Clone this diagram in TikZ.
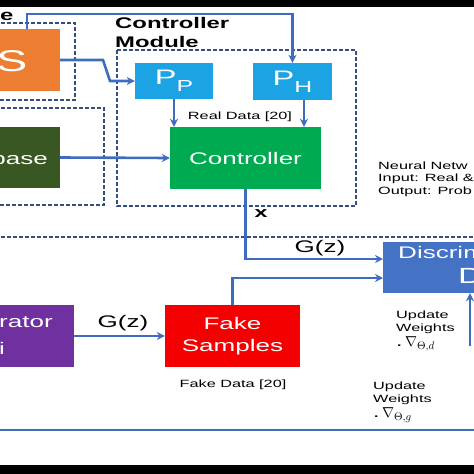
\documentclass[tikz,border=0pt]{standalone}
\usepackage{fontspec}
\setmainfont{Liberation Sans}[FakeStretch=1.55]
\usetikzlibrary{arrows.meta}
\tikzset {>={Stealth[length=8pt,width=8pt]}}

\definecolor{srcorange}{RGB}{237,125,49}
\definecolor{pcyan}{RGB}{28,163,227}
\definecolor{ctrlgreen}{RGB}{0,170,80}
\definecolor{dbgreen}{RGB}{56,87,35}
\definecolor{genpurple}{RGB}{112,48,160}
\definecolor{fakered}{RGB}{245,0,0}
\definecolor{discblue}{RGB}{68,114,196}
\definecolor{lnblue}{RGB}{62,108,192}
\definecolor{dashcol}{RGB}{52,78,128}

\tikzset{
  blk/.style={rectangle, inner sep=0pt, text=white},
  link/.style={draw=lnblue, line width=2.6pt, ->},
  dbox/.style={draw=dashcol, line width=1.6pt, dash pattern=on 4pt off 2pt},
  lbl/.style={inner sep=0pt, font=\fontsize{10.5}{12.5}\selectfont},
  big/.style={inner sep=0pt, text=white, font=\fontsize{16.8}{22}\selectfont}
}

\begin{document}
\begin{tikzpicture}[x=1pt,y=-1pt]
\useasboundingbox (0,0) rectangle (474,474);
\clip (0,0) rectangle (474,474);

% frame bands
\fill[black] (0,0) rectangle (474,7);
\fill[black] (0,465) rectangle (474,474);
\draw[lnblue, line width=1.8pt] (0,430) -- (474,430);

% dashed groups
\draw[dbox] (-5,23) -- (75,23) -- (75,100) -- (-5,100);
\draw[dbox] (-5,108) -- (104,108) -- (104,205) -- (-5,205);
\draw[dbox] (117,50) rectangle (356,206);
\draw[dbox] (-5,237) -- (480,237);

% boxes
\node[blk, fill=srcorange, minimum width=90, minimum height=62] (src) at (15,60) {};
\node[blk, fill=dbgreen, minimum width=90, minimum height=61] (db) at (15,157.5) {};
\node[blk, fill=pcyan, minimum width=78, minimum height=36] (pp) at (174,81)
  {\fontsize{21}{21}\selectfont P\raisebox{-7pt}{\fontsize{16}{16}\selectfont P}};
\node[blk, fill=pcyan, minimum width=79, minimum height=37] (ph) at (292.5,81.5)
  {\fontsize{21}{21}\selectfont P\raisebox{-7pt}{\fontsize{16}{16}\selectfont H}};
\node[blk, fill=ctrlgreen, minimum width=151, minimum height=62, font=\fontsize{16.8}{20}\selectfont] (ctrl) at (245.5,158) {Controller};
\node[blk, fill=genpurple, minimum width=104, minimum height=62] (gen) at (22,336) {};
\node[blk, fill=fakered, minimum width=135, minimum height=62, align=center, font=\fontsize{16.8}{22}\selectfont] (fake) at (232.5,336) {Fake\\Samples};
\node[blk, fill=discblue, minimum width=137, minimum height=51] (disc) at (451.5,267.5) {};

% texts of the cut boxes
\node[big, font=\fontsize{30}{30}\selectfont] (srcS) at (12,61) {S};
\node[big, anchor=east] (dbtxt) at (48,158) {base};
\node[big, anchor=west] (gentxt) at (-1,322) {rator};
\node[big, anchor=east] (gentxt2) at (5,348) {i};
\node[big, anchor=west] (disctxt) at (398,252) {Discrim};
\node[big, anchor=west, font=\fontsize{22}{22}\selectfont] (discD) at (458,276) {D};

% titles and labels
\node[inner sep=0pt, anchor=base west, font=\bfseries\fontsize{15.4}{18}\selectfont] (srctitle) at (0,20) {e};
\node[inner sep=0pt, anchor=base west, font=\bfseries\fontsize{15.4}{18}\selectfont] (cmtitle) at (115,28) {Controller};
\node[inner sep=0pt, anchor=base west, font=\bfseries\fontsize{15.4}{18}\selectfont] (cmtitle2) at (115,47) {Module};
\node[lbl] (real) at (240,117) {Real Data [20]};
\node[lbl] (fakedata) at (233,385) {Fake Data [20]};
\node[lbl, anchor=west, align=left] (nn) at (378,179) {Neural Netw\\Input: Real \&\\Output: Prob};
\node[inner sep=0pt, font=\fontsize{16.8}{20}\selectfont] (gzb) at (123,323) {G(z)};
\node[inner sep=0pt, font=\fontsize{16.8}{20}\selectfont] (gzt) at (320,248) {G(z)};
\node[inner sep=0pt, font=\bfseries\fontsize{15}{18}\selectfont] (xlab) at (261,214) {x};
\node[lbl, anchor=north west, align=left] (updd) at (396,311)
  {Update\\Weights\\[3pt]{\fontsize{15}{15}\selectfont .\,$\nabla_{\Theta,d}$}};
\node[lbl, anchor=north west, align=left] (updg) at (373,382)
  {Update\\Weights\\[3pt]{\fontsize{15}{15}\selectfont .\,$\nabla_{\Theta,g}$}};

% connectors
\coordinate (srcup) at (27,14);
\coordinate (phout) at (304,0);
\coordinate (din1) at (383,259);
\coordinate (din2) at (383,278);
\coordinate (wd) at (470,346);
\draw[link] (srcup |- src.north) -- (srcup) -| (ph.north);
\draw[link] (src.east) -- (103,60) -- (110,81) -- (pp.west);
\draw[link] (pp.south) -- (pp.south |- ctrl.north);
\draw[link] (phout |- ph.south) -- (phout |- ctrl.north);
\draw[link] (db.east) -- (ctrl.west);
\draw[link] (ctrl.south) |- (din1);
\draw[link] (fake.north) |- (din2);
\draw[link] (gen.east) -- (fake.west);
\draw[link] (wd) -- (wd |- disc.south);

\end{tikzpicture}
\end{document}
